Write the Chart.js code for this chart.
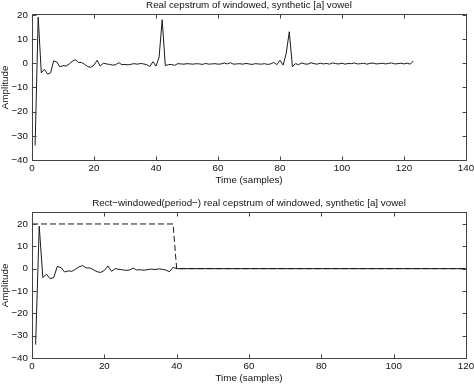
<!DOCTYPE html>
<html>
<head>
<meta charset="utf-8">
<script src="https://cdn.jsdelivr.net/npm/chart.js@4.4.0/dist/chart.umd.min.js"></script>
<style>
html, body { margin: 0; padding: 0; background: #fff; }
#wrap { position: relative; width: 474px; height: 384px; }
canvas { position: absolute; left: 0; }
#top-chart { top: 0; }
#bottom-chart { top: 192px; }
</style>
</head>
<body>
<div id="wrap">
  <canvas id="top-chart" width="474" height="192"></canvas>
  <canvas id="bottom-chart" width="474" height="192"></canvas>
</div>
<script>
// real cepstrum, samples 1..123
var cepstrum = [
  -34, 19, -4, -2.5, -4.5, -4, 1, 0.5, -1.5, -1,
  -1.2, -0.3, 0.8, 1.4, 0.3, 0.3, -0.5, -1.4, -1.7, -0.8,
  1.2, -1.2, 0, -0.3, -0.5, -0.8, -0.6, 0.2, -0.6, -0.5,
  -0.7, -0.4, -0.2, -0.4, -0.1, -0.3, -0.6, -1.4, 0.6, -1.2,
  2.5, 18, -1, -0.6, -0.5, -0.9, -0.2, -0.3,
  -0.4, -0.2, -0.3, -0.4, -0.2, -0.3, -0.5, -0.1, -0.4, -0.3,
  -0.2, -0.4, -0.3, 0.1, -0.3, 0.2, -0.4, -0.3, -0.2, -0.4,
  -0.1, -0.3, -0.5, -0.2, -0.3, -0.4, -0.2, -0.5, -0.3, 0.3, -0.6,
  1.2, -0.8, 4, 13, -1.4,
  -0.2, -0.6, 0.1, -0.3, -0.4, 0.2, -0.2, -0.4, 0, -0.3,
  -0.1, -0.4, 0.1, -0.2, -0.3, 0, -0.4, -0.1, -0.2, 0.1,
  -0.3, -0.2, 0, -0.4, -0.1, 0.1, -0.3, -0.2, 0, -0.3,
  -0.1, 0.1, -0.3, -0.2, 0, -0.3, 0, -0.4,
  0.9
];

// rect-windowed cepstrum, samples 1..39, then zero
var liftered = [
  -34, 19, -4, -2.5, -4.5, -4, 1, 0.5, -1.5, -1,
  -1.2, -0.3, 0.8, 1.4, 0.3, 0.3, -0.5, -1.4, -1.7, -0.8,
  1.2, -1.2, 0, -0.3, -0.5, -0.8, -0.6, 0.2, -0.6, -0.5,
  -0.7, -0.4, -0.2, -0.4, -0.1, -0.3, -0.6, -1.4, 0.6
];
var lifteredTailX = [40, 120];
var lifteredTailY = [0, 0];

// window (scaled) drawn dashed
var windowX = [0, 39, 40, 120];
var windowY = [20, 20, 0, 0];

var topTitle = 'Real cepstrum of windowed, synthetic [a] vowel';
var bottomTitle = 'Rect\u2212windowed(period\u2212) real cepstrum of windowed, synthetic [a] vowel';
var xLabel = 'Time (samples)';
var yLabel = 'Amplitude';

Chart.defaults.font.family = '"Liberation Sans", Arial, Helvetica, sans-serif';
Chart.defaults.font.size = 9.8;
Chart.defaults.color = '#111';

function points(xs, ys) {
  var out = [];
  for (var i = 0; i < ys.length; i++) out.push({ x: xs[i], y: ys[i] });
  return out;
}
function samples(ys, start) {
  var out = [];
  for (var i = 0; i < ys.length; i++) out.push({ x: start + i, y: ys[i] });
  return out;
}
function minus(v) { return String(v).replace('-', '\u2212'); }

// box + inward ticks on all four sides, matlab style
var framePlugin = {
  id: 'frame',
  afterDatasetsDraw: function(chart) {
    var ctx = chart.ctx, a = chart.chartArea;
    var xs = chart.scales.x, ys = chart.scales.y;
    var l = Math.floor(a.left) + 0.5, r = Math.floor(a.right) + 0.5;
    var t = Math.floor(a.top) + 0.5, b = Math.floor(a.bottom) + 0.5;
    ctx.save();
    ctx.strokeStyle = '#444';
    ctx.lineWidth = 1;
    ctx.strokeRect(l, t, r - l, b - t);
    ctx.beginPath();
    xs.ticks.forEach(function(tk) {
      var px = Math.round(xs.getPixelForValue(tk.value)) + 0.5;
      ctx.moveTo(px, b); ctx.lineTo(px, b - 4);
      ctx.moveTo(px, t); ctx.lineTo(px, t + 4);
    });
    ys.ticks.forEach(function(tk) {
      var py = Math.round(ys.getPixelForValue(tk.value)) + 0.5;
      ctx.moveTo(l, py); ctx.lineTo(l + 4, py);
      ctx.moveTo(r, py); ctx.lineTo(r - 4, py);
    });
    ctx.stroke();
    ctx.restore();
  }
};

function makeChart(id, opts) {
  return new Chart(document.getElementById(id), {
    type: 'line',
    data: { datasets: opts.datasets },
    options: {
      responsive: false,
      animation: false,
      devicePixelRatio: 1,
      layout: { padding: { left: 0, right: 8, top: 0, bottom: 0 } },
      elements: { point: { radius: 0 }, line: { tension: 0 } },
      plugins: {
        legend: { display: false },
        tooltip: { enabled: false },
        title: {
          display: true,
          fullSize: false,
          text: opts.title,
          font: { weight: 'normal', lineHeight: 1 },
          padding: opts.titlePadding,
          color: '#111'
        }
      },
      scales: {
        x: {
          type: 'linear',
          min: 0,
          max: opts.xMax,
          grid: { display: false, drawTicks: false },
          border: { display: false },
          ticks: { stepSize: 20, padding: 2, maxRotation: 0, autoSkip: false },
          title: { display: true, text: xLabel, padding: { top: 0, bottom: opts.xTitlePad } },
          afterFit: function(s) { s.height = opts.xHeight; s.paddingLeft = 0; s.paddingRight = 0; }
        },
        y: {
          min: -40,
          max: opts.yMax,
          grid: { display: false, drawTicks: false },
          border: { display: false },
          ticks: { stepSize: 10, padding: 4, callback: minus },
          title: { display: true, text: yLabel, font: { lineHeight: 1 }, padding: 0 },
          afterBuildTicks: function(s) {
            s.ticks = s.ticks.filter(function(t) { return t.value % 10 === 0; });
          },
          afterFit: function(s) { s.width = 32; s.paddingTop = 0; s.paddingBottom = 0; }
        }
      }
    },
    plugins: [framePlugin]
  });
}

makeChart('top-chart', {
  title: topTitle,
  titlePadding: { top: 0, bottom: 5 },
  xMax: 140,
  yMax: 20,
  xHeight: 32,
  xTitlePad: 6,
  datasets: [{
    data: samples(cepstrum, 1),
    borderColor: '#1a1a1a',
    borderWidth: 1
  }]
});

makeChart('bottom-chart', {
  title: bottomTitle,
  titlePadding: { top: 6, bottom: 5 },
  xMax: 120,
  yMax: 25,
  xHeight: 26,
  xTitlePad: 0,
  datasets: [{
    data: points(windowX, windowY),
    borderColor: '#1a1a1a',
    borderWidth: 1,
    borderDash: [6, 3]
  }, {
    data: samples(liftered, 1).concat(points(lifteredTailX, lifteredTailY)),
    borderColor: '#1a1a1a',
    borderWidth: 1
  }]
});
</script>
</body>
</html>
